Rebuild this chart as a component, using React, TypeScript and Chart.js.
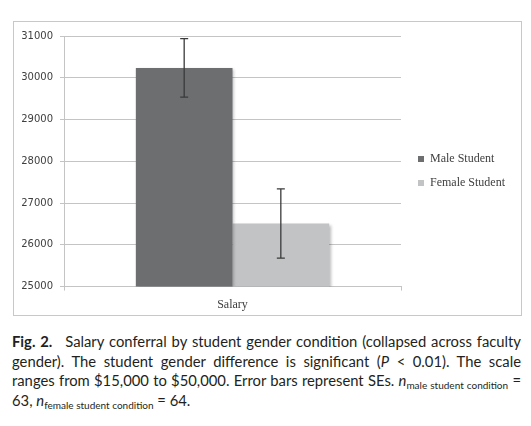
import React, { useEffect, useRef } from "react";
import { Chart, registerables } from "chart.js";

Chart.register(...registerables);

const categories = ["Salary"];
const seriesNames = ["Male Student", "Female Student"];
const maleValues = [30235];
const femaleValues = [26510];
const maleErrors = [700];
const femaleErrors = [828];
const yTickValues = [25000, 26000, 27000, 28000, 29000, 30000, 31000];

const errorsBySeries = [maleErrors, femaleErrors];

const barShadowAndErrors = {
  id: "barShadowAndErrors",
  beforeDatasetsDraw(chart: any) {
    const ctx = chart.ctx;
    ctx.save();
    ctx.shadowColor = "rgba(0,0,0,0.28)";
    ctx.shadowBlur = 3;
    ctx.shadowOffsetX = 1.5;
    ctx.shadowOffsetY = 1;
  },
  afterDatasetsDraw(chart: any) {
    const ctx = chart.ctx;
    ctx.restore();
    const yScale = chart.scales.y;
    ctx.save();
    ctx.strokeStyle = "#3a3a3a";
    ctx.lineWidth = 1.3;
    chart.data.datasets.forEach((ds: any, di: number) => {
      const meta = chart.getDatasetMeta(di);
      meta.data.forEach((bar: any, i: number) => {
        const v = ds.data[i];
        const e = errorsBySeries[di][i];
        const x = bar.x;
        const yt = yScale.getPixelForValue(v + e);
        const yb = yScale.getPixelForValue(v - e);
        const cap = 4;
        ctx.beginPath();
        ctx.moveTo(x, yt);
        ctx.lineTo(x, yb);
        ctx.moveTo(x - cap, yt);
        ctx.lineTo(x + cap, yt);
        ctx.moveTo(x - cap, yb);
        ctx.lineTo(x + cap, yb);
        ctx.stroke();
      });
    });
    ctx.restore();
  },
};

function ChartBox() {
  const ref = useRef<HTMLCanvasElement | null>(null);
  useEffect(() => {
    if (!ref.current) return;
    const chart = new Chart(ref.current, {
      type: "bar",
      data: {
        labels: categories,
        datasets: [
          {
            label: seriesNames[0],
            data: maleValues,
            backgroundColor: "#6d6e70",
            borderWidth: 0,
            categoryPercentage: 0.5736,
            barPercentage: 1,
          },
          {
            label: seriesNames[1],
            data: femaleValues,
            backgroundColor: "#c2c3c5",
            borderWidth: 0,
            categoryPercentage: 0.5736,
            barPercentage: 1,
          },
        ],
      },
      options: {
        responsive: false,
        animation: false,
        devicePixelRatio: 1,
        layout: { padding: { left: 7, top: 14, right: 6, bottom: 0 } },
        plugins: {
          tooltip: { enabled: false },
          legend: {
            position: "right",
            align: "start",
            title: {
              display: true,
              text: " ",
              padding: { top: 90.6, bottom: 0 },
              font: { family: "'Liberation Serif'", size: 12 },
            },
            labels: {
              boxWidth: 6,
              boxHeight: 6,
              padding: 12,
              color: "#404040",
              font: { family: "'Liberation Serif'", size: 12 },
            },
          },
        },
        scales: {
          x: {
            offset: true,
            grid: {
              display: true,
              drawOnChartArea: false,
              drawTicks: true,
              tickLength: 4,
              color: "#c4c4c4",
              offset: true,
            },
            border: { display: true, color: "#c4c4c4", width: 1 },
            ticks: {
              color: "#404040",
              padding: 7.5,
              font: { family: "'Liberation Serif'", size: 12 },
            },
          },
          y: {
            min: 25000,
            max: 31000,
            afterBuildTicks: (scale: any) => {
              scale.ticks = yTickValues.map((v) => ({ value: v }));
            },
            afterFit: (s: any) => {
              s.width = 43;
            },
            grid: {
              color: "#c4c4c4",
              lineWidth: 1,
              drawTicks: true,
              tickLength: 4,
            },
            border: { display: true, color: "#c4c4c4", width: 1 },
            ticks: {
              color: "#404040",
              padding: 7,
              font: { family: "'DejaVu Sans'", size: 10 },
              callback: (v: any) => String(v),
            },
          },
          gap: {
            type: "linear",
            position: "right",
            display: false,
            afterFit: (s: any) => {
              s.width = 5;
            },
          },
        },
      } as any,
      plugins: [barShadowAndErrors],
    });
    return () => chart.destroy();
  }, []);
  return <canvas ref={ref} width={507} height={298} style={{ display: "block", width: 507, height: 298 }} />;
}

const lineStyle: React.CSSProperties = {
  textAlign: "justify",
  textAlignLast: "justify" as any,
  whiteSpace: "normal",
};

const subStyle: React.CSSProperties = {
  fontSize: "10px",
  verticalAlign: "-3px",
  lineHeight: 0,
};

export default function App() {
  return (
    <div style={{ paddingTop: 13, paddingLeft: 5 }}>
      <div
        style={{
          width: 509,
          height: 295,
          border: "1px solid #c8c8c8",
          boxSizing: "border-box",
          background: "#fff",
        }}
      >
        <ChartBox />
      </div>
      <div
        style={{
          marginTop: 16,
          marginLeft: -1,
          width: 509,
          fontFamily: "Lato",
          fontSize: "14.8px",
          lineHeight: "19.5px",
          color: "#231f20",
        }}
      >
        <div style={lineStyle}>
          <b style={{ marginRight: 8 }}>Fig. 2.</b> Salary conferral by student gender condition (collapsed across faculty
        </div>
        <div style={lineStyle}>
          gender). The student gender difference is significant (<i>P</i> &lt; 0.01). The scale
        </div>
        <div style={lineStyle}>
          ranges from $15,000 to $50,000. Error bars represent SEs. <i>n</i>
          <span style={subStyle}>male student condition</span> =
        </div>
        <div>
          63, <i>n</i>
          <span style={subStyle}>female student condition</span> = 64.
        </div>
      </div>
    </div>
  );
}
